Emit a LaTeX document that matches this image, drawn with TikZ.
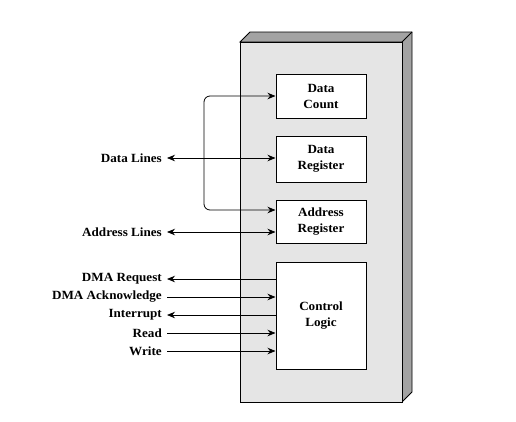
\documentclass[tikz,border=0pt]{standalone}
\usepackage{fontspec}
\setmainfont{Liberation Serif}[FakeStretch=1.05]
\usetikzlibrary{arrows}
\usetikzlibrary{arrows.meta}
\usetikzlibrary{calc}
\usetikzlibrary{positioning}

\begin{document}
\begin{tikzpicture}[x=1pt,y=-1pt,
    font=\fontsize{12.5}{16}\selectfont\bfseries,
    reg/.style={draw,line width=1pt,fill=white,minimum width=90pt,align=center,inner sep=0pt},
    lab/.style={anchor=east,inner sep=0pt}]

  \useasboundingbox (0,0) rectangle (516,421);

  % cabinet: side, top and front face
  \path [draw,line width=0.9pt,fill=black!36] (240,42) -- (250,32) -- (412,32) -- (412,392) -- (402,402) -- (402,42) -- cycle;
  \path [draw,line width=0.9pt] (402,42) -- (412,32);
  \path [draw,line width=0.9pt,fill=black!10] (240,42) rectangle (402,402);

  \node [reg,minimum height=44pt] (count) at (321,96) {Data\\Count};
  \node [reg,minimum height=46pt] (dreg) at (321,159) {Data\\Register};
  \node [reg,minimum height=43pt] (areg) at (321,221.5) {Address\\Register};
  \node [reg,minimum height=107pt] (ctrl) at (321,315.5) {Control\\Logic};

  \node [lab] (datalines) at (162,158) {Data Lines};
  \node [lab] (addrlines) at (162,232) {Address Lines};
  \node [lab] (dmareq) at (162,279) {DMA Request};
  \node [lab] (dmaack) at (162,297) {DMA Acknowledge};
  \node [lab] (intr) at (162,315) {Interrupt};
  \node [lab] (rd) at (162,333) {Read};
  \node [lab] (wr) at (162,351) {Write};

  \coordinate (arin) at ($(areg.west)+(0,-11.5)$);

  \path [draw,line width=0.8pt,>={Stealth[length=8pt,width=6.5pt]},shorten <=5pt]
    (datalines.east) edge [<->] (dreg.west |- datalines.east)
    (addrlines.east) edge [<->] (areg.west |- addrlines.east)
    (dmareq.east) edge [<-] (ctrl.west |- dmareq.east)
    (dmaack.east) edge [->] (ctrl.west |- dmaack.east)
    (intr.east) edge [<-] (ctrl.west |- intr.east)
    (rd.east) edge [->] (ctrl.west |- rd.east)
    (wr.east) edge [->] (ctrl.west |- wr.east);

  \path [draw,line width=0.8pt,<->,>={Stealth[length=8pt,width=6.5pt]},rounded corners=6pt]
    (count.west) -| (204,158) |- (arin);

\end{tikzpicture}
\end{document}
